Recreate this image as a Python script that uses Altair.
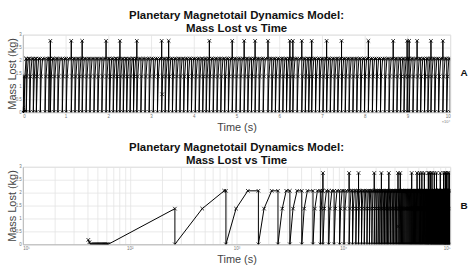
import altair as alt
import pandas as pd

# ---------------- data (seconds, kg) ----------------
# start-up transient
early_t = [41, 42, 43, 44, 45, 46, 47, 48, 49, 50, 51, 52, 53, 54, 55, 56, 57, 58, 59, 60, 61, 62, 63, 265, 265]
early_v = [0.17, 0.08, 0, 0, 0, 0, 0, 0, 0, 0, 0, 0, 0, 0, 0, 0, 0, 0, 0, 0, 0, 0, 0, 1.38, 0]

# per-cycle times: reach 1.38 kg, reach 2.07 kg, drop back to 0
rise_t = [478, 990, 1810, 2680, 3380, 4300, 5410, 6210, 6650, 7500, 8420, 9440, 10360, 11540, 12410, 13300,
          14090, 15010, 15910, 16860, 17760, 18710, 19680, 20510, 21360, 22160, 22930, 23710, 24510, 25310,
          26110, 26880, 27840, 28810, 29770, 30740, 31710, 32720, 33510, 34330, 35210, 36090, 36980, 37860,
          38770, 39660, 40560, 41460, 42310, 43110, 43860, 44760, 45660, 46540, 47440, 48310, 49210, 50110,
          51060, 52000, 52860, 53710, 54560, 55490, 56460, 57580, 58460, 59310, 60210, 61060, 61910, 62700,
          63400, 64410, 65490, 66310, 67110, 67810, 68710, 69610, 70460, 71300, 72160, 73060, 73910, 74790,
          75660, 76560, 77460, 78360, 79260, 80160, 81070, 82010, 82960, 83910, 84910, 85910, 86880, 87760,
          88610, 89410, 90090, 90610, 91510, 92470, 93310, 94210, 95010, 95720, 96610, 97510, 98510, 99410]
full_t = [767, 1276, 2134, 2920, 3690, 4610, 5720, 6340, 6950, 7810, 8720, 9740, 10660, 11830, 12700, 13600,
          14380, 15300, 16200, 17150, 18050, 19000, 19970, 20800, 21650, 22450, 23220, 24000, 24800, 25600,
          26400, 27170, 28130, 29100, 30060, 31030, 32000, 33000, 33800, 34620, 35500, 36380, 37270, 38150,
          39060, 39950, 40850, 41750, 42600, 43400, 44150, 45050, 45950, 46830, 47730, 48600, 49500, 50400,
          51350, 52290, 53150, 54000, 54850, 55780, 56750, 57870, 58750, 59600, 60500, 61350, 62200, 62950,
          63690, 64700, 65780, 66600, 67350, 68100, 69000, 69900, 70750, 71590, 72450, 73350, 74200, 75080,
          75950, 76850, 77750, 78650, 79550, 80450, 81360, 82300, 83250, 84200, 85200, 86200, 87170, 88050,
          88900, 89700, 90250, 90900, 91800, 92760, 93600, 94500, 95280, 96010, 96900, 97800, 98800, 99700]
drop_t = [796, 1603, 2445, 3160, 4085, 5200, 6095, 6440, 7300, 8200, 9230, 10150, 11330, 12200, 13100, 13880,
          14800, 15700, 16650, 17550, 18500, 19470, 20300, 21150, 21950, 22720, 23500, 24300, 25100, 25900,
          26670, 27630, 28600, 29560, 30530, 31500, 32490, 33300, 34120, 35000, 35880, 36770, 37650, 38560,
          39450, 40350, 41250, 42100, 42900, 43650, 44550, 45450, 46330, 47230, 48100, 49000, 49900, 50850,
          51790, 52650, 53500, 54350, 55280, 56250, 57370, 58250, 59100, 60000, 60850, 61700, 62490, 63190,
          64200, 65280, 66100, 66900, 67600, 68500, 69400, 70250, 71090, 71950, 72850, 73700, 74580, 75450,
          76350, 77250, 78150, 79050, 79950, 80860, 81800, 82750, 83700, 84700, 85700, 86670, 87550, 88400,
          89200, 89930, 90400, 91300, 92260, 93100, 94000, 94800, 95510, 96400, 97300, 98300, 99200, 100000]
# cycles that spike to 2.76 kg just before dropping
peak_drops = [6440, 11330, 13880, 19470, 22720, 26670, 32490, 34120, 43650, 49000, 51790, 54350, 57370,
              62490, 63190, 65280, 67600, 71090, 74580, 80860, 86670, 89930, 90400, 92260, 95510, 98300]
# isolated intermediate sample
half_t = [32600]
half_v = [0.69]

RISE_LEVEL = 1.38
FULL_LEVEL = 2.07
PEAK_LEVEL = 2.76

rows = list(zip(early_t, early_v))
prev = early_t[-1]
for r, f, d in zip(rise_t, full_t, drop_t):
    for ht, hv in zip(half_t, half_v):
        if prev < ht < r:
            rows.append((ht, hv))
    rows.append((r, RISE_LEVEL))
    rows.append((f, FULL_LEVEL))
    rows.append((d, FULL_LEVEL))
    if d in peak_drops:
        rows.append((d, PEAK_LEVEL))
    rows.append((d, 0))
    prev = d

df = pd.DataFrame(rows, columns=["t", "v"])
df["i"] = range(len(df))

# ---------------- style ----------------
FONT = "Liberation Sans"
XPATH = "M-1,-1L1,1M-1,1L1,-1"
W, H = 430, 78
TITLE = ["Planetary Magnetotail Dynamics Model:", "Mass Lost vs Time"]
y_vals = [0, 0.5, 1, 1.5, 2, 2.5, 3]
lin_ticks = [0, 10000, 20000, 30000, 40000, 50000, 60000, 70000, 80000, 90000, 100000]
log_ticks = [m * 10 ** k for k in range(1, 5) for m in range(1, 10)] + [100000]

common_axis = dict(
    grid=True, gridColor="#e3e3e3", gridWidth=0.8,
    domainColor="#b0b0b0", domainWidth=0.8,
    ticks=False,
    labelFont=FONT, labelFontSize=4.5, labelColor="#777", labelPadding=1.5,
    titleFont=FONT, titleFontSize=11, titleFontWeight="normal", titleColor="#444",
)

y_axis = alt.Axis(values=y_vals, title="Mass Lost (kg)", labelExpr="format(datum.value, '~g')",
                  titleX=-7.5, titleY=H / 2, titleBaseline="alphabetic", titleAngle=-90,
                  **common_axis)


def title_params():
    return alt.TitleParams(TITLE, font=FONT, fontSize=11.5, fontWeight="bold", color="#111",
                           lineHeight=13.6, anchor="middle", frame="group", offset=-3)


def panel(xenc, letter, extra_layers):
    base = alt.Chart(df).encode(
        x=xenc,
        y=alt.Y("v:Q", scale=alt.Scale(domain=[0, 3], nice=False), axis=y_axis),
        order="i:Q",
    )
    line = base.mark_line(color="black", strokeWidth=1.0, clip=True)
    pts = base.mark_point(shape=XPATH, size=13, filled=False, color="black", strokeWidth=0.8,
                          opacity=1, clip=True)
    lab = alt.Chart(pd.DataFrame({"lab": [letter]})).mark_text(
        font=FONT, fontSize=10, fontWeight="bold", color="#111", align="center", baseline="middle"
    ).encode(text="lab:N", x=alt.value(W + 14), y=alt.value(H / 2))
    return alt.layer(line, pts, lab, *extra_layers).properties(width=W, height=H, title=title_params())


xa = alt.X("t:Q", scale=alt.Scale(domain=[0, 100000], nice=False, zero=False),
           axis=alt.Axis(values=lin_ticks, title="Time (s)", labelExpr="datum.value / 10000",
                         titlePadding=3, **common_axis))
expo = alt.Chart(pd.DataFrame({"e": ["×10⁴"]})).mark_text(
    font=FONT, fontSize=4, color="#777", align="right", baseline="middle"
).encode(text="e:N", x=alt.value(W), y=alt.value(H + 10))

xb = alt.X("t:Q", scale=alt.Scale(type="log", domain=[10, 100000], nice=False),
           axis=alt.Axis(values=log_ticks, title="Time (s)",
                         labelExpr="datum.value == 10 ? '10¹' : datum.value == 100 ? '10²' : "
                                   "datum.value == 1000 ? '10³' : datum.value == 10000 ? '10⁴' : "
                                   "datum.value == 100000 ? '10⁵' : ''",
                         titlePadding=3, **common_axis))

chart_a = panel(xa, "A", [expo])
chart_b = panel(xb, "B", [])

chart = alt.vconcat(chart_a, chart_b, spacing=8).resolve_scale(x="independent", y="independent").properties(
    padding={"left": 5, "top": 8, "right": 5, "bottom": 1}
).configure_view(stroke="#b0b0b0", strokeWidth=0.8).configure(background="white")

chart.save("out.html", embed_options={"renderer": "svg", "actions": False})
